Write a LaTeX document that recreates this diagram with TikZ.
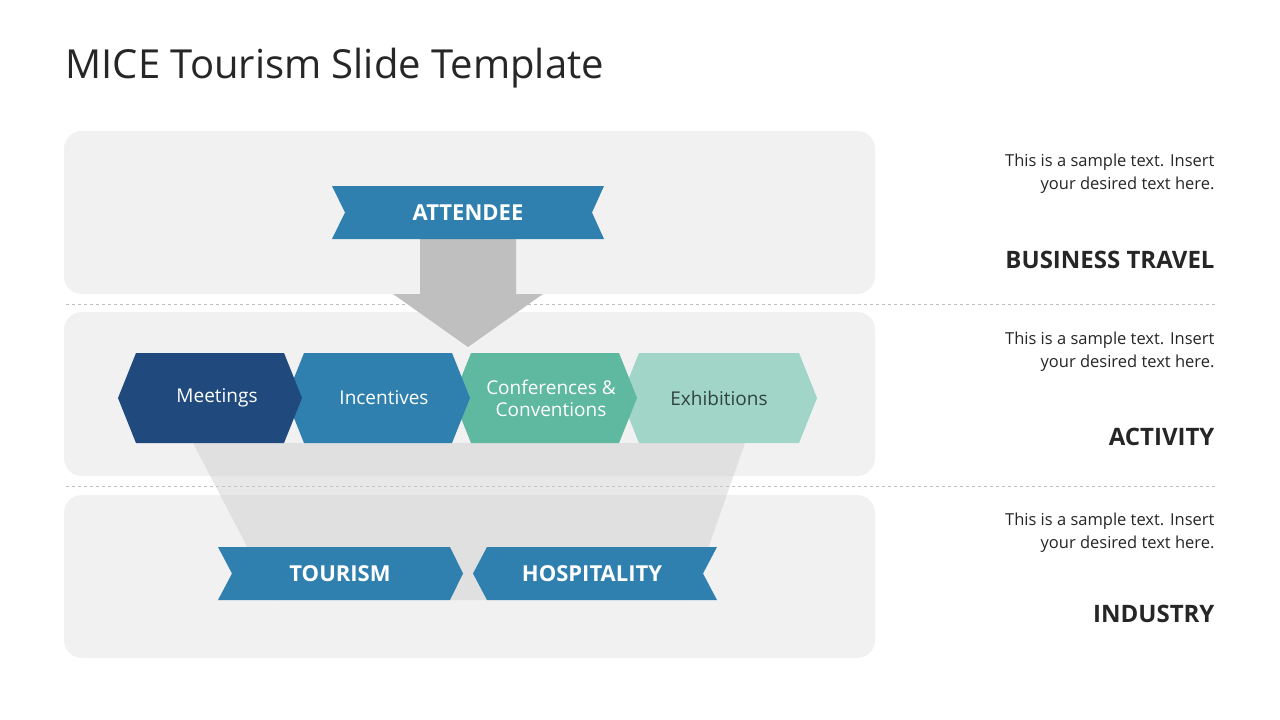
\documentclass[tikz,border=0pt]{standalone}
\usepackage{fontspec}
\setmainfont{Open Sans}
\definecolor{panel}{HTML}{F1F1F1}
\definecolor{blueA}{HTML}{2F80AE}
\definecolor{navy}{HTML}{204A7E}
\definecolor{teal}{HTML}{5FB8A0}
\definecolor{mint}{HTML}{A0D5C8}
\definecolor{txt}{HTML}{262626}
\begin{document}
\begin{tikzpicture}[x=1pt,y=-1pt,
  panelbox/.style={fill=panel,rounded corners=18pt,draw=none},
  sep/.style={draw=gray!50,dashed,line width=0.6pt},
  ribtext/.style={text=white,font=\bfseries\fontsize{22}{24}\selectfont},
  hextext/.style={font=\fontsize{19}{22}\selectfont,align=center},
  sample/.style={anchor=east,align=right,text=txt,font=\fontsize{16.5}{23}\selectfont},
  head/.style={anchor=east,text=txt,font=\bfseries\fontsize{24}{26}\selectfont}]
\useasboundingbox (0,0) rectangle (1280,720);
\fill[white] (0,0) rectangle (1280,720);
\node[anchor=west,text=txt,font=\fontsize{40}{44}\selectfont] (title) at (62,68) {MICE Tourism Slide Template};
\fill[panelbox] (64,131) rectangle (875,294);
\fill[panelbox] (64,312) rectangle (875,476);
\fill[panelbox] (64,495) rectangle (875,658);
\draw[sep] (66,304) -- (1215,304);
\draw[sep] (66,486) -- (1215,486);
% funnel
\fill[gray!40,opacity=0.45] (193,443) -- (745,443) -- (690,600) -- (275,600) -- cycle;
% arrow
\fill[gray!50] (420,239) -- (516,239) -- (516,294) -- (543,294) -- (468,347) -- (393,294) -- (420,294) -- cycle;
% attendee
\fill[blueA] (332,186) -- (604,186) -- (592,212.5) -- (604,239) -- (332,239) -- (345,212.5) -- cycle;
\node[ribtext] (att) at (468,213) {ATTENDEE};
% hexagons
\fill[mint] (621,398) -- (639,353) -- (799,353) -- (817,398) -- (799,443) -- (639,443) -- cycle;
\fill[teal] (453,398) -- (471,353) -- (619,353) -- (637,398) -- (619,443) -- (471,443) -- cycle;
\fill[blueA] (286,398) -- (304,353) -- (452,353) -- (470,398) -- (452,443) -- (304,443) -- cycle;
\fill[navy] (118,398) -- (136,353) -- (284,353) -- (302,398) -- (284,443) -- (136,443) -- cycle;
\node[hextext,text=white] (meet) at (217,398) {Meetings};
\node[hextext,text=white] (inc) at (384,398) {Incentives};
\node[hextext,text=white] (conf) at (551,398) {Conferences \&\\Conventions};
\node[hextext,text=txt!80!teal] (exh) at (719,398) {Exhibitions};
% tourism / hospitality
\fill[blueA] (218,547) -- (450,547) -- (463,573.5) -- (450,600) -- (218,600) -- (232,573.5) -- cycle;
\fill[blueA] (487,547) -- (717,547) -- (703,573.5) -- (717,600) -- (487,600) -- (473,573.5) -- cycle;
\node[ribtext] (tour) at (340,574) {TOURISM};
\node[ribtext] (hosp) at (592,574) {HOSPITALITY};
% right texts
\node[sample] (s1) at (1218,174) {This is a sample text. Insert\\your desired text here.};
\node[head] (h1) at (1218,260) {BUSINESS TRAVEL};
\node[sample] (s2) at (1218,352) {This is a sample text. Insert\\your desired text here.};
\node[head] (h2) at (1218,437) {ACTIVITY};
\node[sample] (s3) at (1218,533) {This is a sample text. Insert\\your desired text here.};
\node[head] (h3) at (1218,614) {INDUSTRY};
\end{tikzpicture}
\end{document}
